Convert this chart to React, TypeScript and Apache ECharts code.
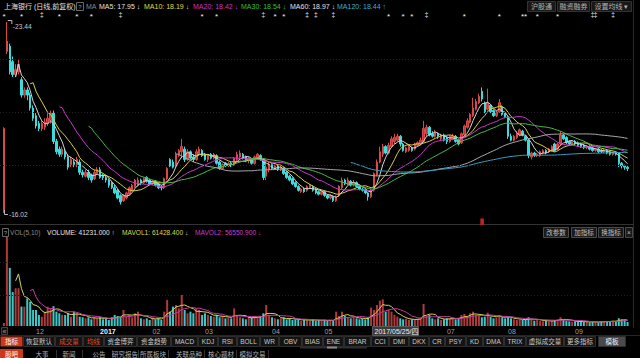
import React, { useEffect, useRef } from "react";
import * as echarts from "echarts";

const FONT = "'Liberation Sans', 'Noto Sans CJK SC', sans-serif";

// ---- calendar (SSE trading days) ----
const START_DATE = "2016-11-16";
const HOLIDAYS = [
  "2017-01-02", "2017-01-27", "2017-01-30", "2017-01-31", "2017-02-01", "2017-02-02",
  "2017-04-03", "2017-04-04", "2017-05-01", "2017-05-29", "2017-05-30",
];
const HIDDEN_MONTHS = ["2016-11", "2017-06"];
const CROSSHAIR_DATE = "2017-05-25";
const EX_RIGHTS_DATE = "2017-07-19";
const WEEKDAYS = ["日", "一", "二", "三", "四", "五", "六"];

// ---- candles: [open, close, low, high] ----
const candles: number[][] = [
  [16.05, 19.3, 16.02, 19.35], [22.3, 22.7, 22.2, 23.44], [22.5, 21.5, 21.4, 22.6], [21.9, 21.4, 21.3, 22.1],
  [21.4, 21.6, 21.3, 21.8], [21.5, 21.8, 21.4, 22.0], [21.2, 20.6, 20.5, 21.3], [20.6, 20.8, 20.5, 20.9],
  [20.8, 20.6, 20.4, 20.9], [20.6, 20.1, 20.0, 20.7], [20.1, 19.7, 19.6, 20.2], [19.8, 19.4, 19.3, 19.9],
  [19.5, 19.3, 19.2, 19.6], [19.3, 19.5, 19.2, 19.6], [19.35, 19.55, 19.25, 19.7], [19.5, 19.7, 19.4, 19.9],
  [19.6, 19.9, 19.5, 20.0], [19.9, 18.8, 18.7, 20.0], [18.8, 18.4, 18.3, 18.9], [18.5, 18.3, 18.2, 18.6],
  [18.3, 18.5, 18.2, 18.6], [18.4, 18.2, 18.1, 18.5], [18.2, 17.8, 17.7, 18.3], [17.9, 18.1, 17.8, 18.2],
  [18.0, 17.9, 17.8, 18.1], [17.9, 18.1, 17.8, 18.2], [18.0, 17.6, 17.5, 18.1], [17.6, 17.5, 17.4, 17.7],
  [17.45, 17.6, 17.4, 17.7], [17.6, 17.4, 17.3, 17.7], [17.5, 17.3, 17.2, 17.55], [17.35, 17.6, 17.3, 17.7],
  [17.55, 17.7, 17.5, 17.8], [17.7, 17.4, 17.35, 17.8], [17.5, 17.4, 17.3, 17.55], [17.4, 17.3, 17.2, 17.5],
  [17.3, 17.1, 17.0, 17.35], [17.2, 17.0, 16.95, 17.25], [17.0, 16.8, 16.75, 17.1], [16.9, 16.6, 16.55, 16.95],
  [16.7, 16.45, 16.35, 16.75], [16.5, 16.7, 16.45, 16.75], [16.6, 16.8, 16.55, 16.85], [16.75, 17.0, 16.7, 17.05],
  [16.9, 17.1, 16.85, 17.15], [17.05, 17.3, 17.0, 17.35], [17.1, 17.3, 17.05, 17.4], [17.3, 17.2, 17.1, 17.35],
  [17.2, 17.35, 17.15, 17.4], [17.4, 17.25, 17.2, 17.45], [17.3, 17.15, 17.1, 17.35], [17.15, 17.25, 17.1, 17.3],
  [17.25, 17.1, 17.05, 17.3], [17.15, 17.0, 16.95, 17.2], [17.05, 17.0, 16.9, 17.1], [17.0, 17.35, 16.95, 17.4],
  [17.35, 17.75, 17.3, 17.8], [18.1, 17.85, 17.8, 18.15], [18.0, 17.8, 17.75, 18.1], [17.85, 18.3, 17.8, 18.4],
  [18.25, 18.45, 18.2, 18.5], [18.4, 18.6, 18.15, 18.9], [18.5, 18.1, 18.0, 18.6], [18.1, 18.4, 18.05, 18.5],
  [18.4, 18.15, 18.1, 18.45], [18.2, 18.1, 18.0, 18.3], [18.1, 18.4, 18.05, 18.5], [18.35, 18.5, 18.3, 18.6],
  [18.45, 18.25, 18.2, 18.5], [18.3, 18.1, 18.05, 18.35], [18.1, 18.25, 18.0, 18.3], [18.3, 18.15, 18.1, 18.35],
  [18.15, 18.3, 18.1, 18.35], [18.25, 17.95, 17.9, 18.3], [18.0, 17.75, 17.7, 18.05], [17.75, 17.9, 17.7, 17.95],
  [17.95, 17.85, 17.8, 18.0], [17.85, 17.95, 17.8, 18.0], [17.95, 17.85, 17.8, 18.0], [17.9, 18.15, 17.85, 18.2],
  [18.1, 18.3, 18.05, 18.4], [18.2, 18.35, 18.15, 18.45], [18.3, 18.2, 18.1, 18.35], [18.2, 18.05, 18.0, 18.25],
  [18.05, 18.15, 17.95, 18.2], [18.1, 17.95, 17.9, 18.15], [17.95, 18.2, 17.9, 18.25], [18.15, 18.3, 18.1, 18.35],
  [18.25, 18.1, 18.05, 18.3], [18.1, 17.4, 17.3, 18.15], [17.45, 17.8, 17.3, 18.1], [17.7, 17.9, 17.6, 18.0],
  [17.9, 17.75, 17.7, 17.95], [17.75, 17.85, 17.7, 17.9], [17.85, 17.7, 17.65, 17.9], [17.7, 17.8, 17.65, 17.85],
  [17.75, 17.55, 17.5, 17.8], [17.6, 17.4, 17.35, 17.65], [17.45, 17.3, 17.25, 17.5], [17.35, 17.15, 17.1, 17.4],
  [17.2, 17.05, 17.0, 17.25], [17.05, 16.9, 16.85, 17.1], [16.85, 16.95, 16.8, 17.0], [16.95, 16.85, 16.8, 17.0],
  [16.9, 17.05, 16.85, 17.1], [17.0, 17.1, 16.95, 17.15], [17.05, 16.9, 16.85, 17.1], [16.95, 16.8, 16.75, 17.0],
  [16.85, 16.75, 16.7, 16.9], [16.75, 16.85, 16.7, 16.9], [16.85, 16.7, 16.65, 16.9], [16.7, 16.6, 16.55, 16.75],
  [16.6, 16.7, 16.55, 16.75], [16.65, 16.5, 16.45, 16.7], [16.5, 16.65, 16.45, 16.7], [16.7, 17.05, 16.65, 17.1],
  [17.0, 17.3, 16.95, 17.4], [17.3, 17.15, 17.1, 17.35], [17.15, 17.3, 17.1, 17.4], [17.25, 17.1, 17.05, 17.3],
  [17.1, 17.2, 17.05, 17.3], [17.2, 17.05, 17.0, 17.25], [17.05, 16.95, 16.9, 17.1], [16.95, 16.9, 16.85, 17.0],
  [16.9, 16.8, 16.75, 16.95], [16.8, 16.65, 16.5, 16.85], [16.65, 16.9, 16.6, 16.95], [16.9, 17.55, 16.85, 17.6],
  [17.5, 18.0, 17.45, 18.1], [18.0, 18.4, 17.95, 18.6], [18.3, 18.6, 18.2, 18.7], [18.6, 18.35, 18.3, 18.65],
  [18.35, 18.65, 18.3, 18.75], [18.6, 18.9, 18.55, 19.0], [18.8, 18.95, 18.7, 19.1], [18.85, 19.0, 18.8, 19.1],
  [19.0, 18.7, 18.6, 19.05], [18.7, 18.45, 18.4, 18.75], [18.4, 18.55, 18.35, 18.6], [18.45, 18.6, 18.4, 18.65],
  [18.55, 18.45, 18.4, 18.6], [18.5, 18.7, 18.45, 18.75], [18.65, 18.75, 18.6, 18.8], [18.7, 18.85, 18.65, 18.95],
  [18.8, 19.3, 18.75, 19.6], [19.1, 19.35, 19.0, 19.45], [19.35, 19.05, 19.0, 19.4], [19.1, 19.0, 18.95, 19.2],
  [19.0, 19.15, 18.95, 19.25], [19.1, 19.0, 18.9, 19.15], [18.9, 19.05, 18.85, 19.1], [19.05, 18.85, 18.8, 19.1],
  [18.95, 18.8, 18.7, 19.0], [18.8, 19.0, 18.75, 19.05], [18.9, 19.0, 18.85, 19.1], [19.0, 18.8, 18.75, 19.05],
  [18.85, 18.7, 18.65, 18.9], [18.75, 19.1, 18.7, 19.15], [19.05, 19.4, 19.0, 19.45], [19.35, 19.6, 19.3, 19.7],
  [19.55, 19.85, 19.5, 19.9], [19.8, 20.1, 19.75, 20.5], [20.05, 20.35, 20.0, 20.45], [20.3, 20.55, 20.25, 20.65],
  [20.75, 20.45, 20.35, 20.9], [20.3, 19.95, 19.9, 20.35], [20.05, 20.3, 20.0, 20.85], [20.2, 19.95, 19.9, 20.25],
  [20.0, 19.8, 19.75, 20.05], [19.8, 19.95, 19.75, 20.0], [19.95, 20.3, 19.9, 20.45], [20.15, 19.85, 19.8, 20.2],
  [19.9, 19.75, 19.7, 19.95], [19.75, 19.0, 18.9, 19.8], [19.0, 18.85, 18.8, 19.1], [18.85, 19.0, 18.8, 19.05],
  [18.95, 19.1, 18.9, 19.2], [19.05, 19.25, 19.0, 19.3], [19.2, 19.05, 19.0, 19.25], [19.0, 18.85, 18.8, 19.05],
  [18.85, 18.25, 18.15, 18.9], [18.2, 18.35, 18.1, 18.4], [18.35, 18.25, 18.2, 18.4], [18.25, 18.3, 18.2, 18.35],
  [18.25, 18.4, 18.2, 18.45], [18.35, 18.45, 18.3, 18.5], [18.45, 18.35, 18.3, 18.5], [18.4, 18.5, 18.35, 18.55],
  [18.45, 18.6, 18.4, 18.65], [18.7, 18.45, 18.4, 18.75], [18.5, 18.7, 18.45, 18.75], [18.7, 19.05, 18.65, 19.2],
  [19.05, 18.9, 18.85, 19.1], [18.95, 18.75, 18.7, 19.0], [18.8, 18.7, 18.65, 18.85], [18.7, 18.8, 18.65, 18.85],
  [18.8, 18.7, 18.65, 18.85], [18.75, 18.65, 18.6, 18.8], [18.7, 18.6, 18.55, 18.75], [18.65, 18.55, 18.5, 18.7],
  [18.55, 18.6, 18.5, 18.65], [18.6, 18.5, 18.45, 18.65], [18.55, 18.45, 18.4, 18.6], [18.45, 18.5, 18.4, 18.55],
  [18.5, 18.4, 18.35, 18.55], [18.45, 18.4, 18.35, 18.5], [18.4, 18.45, 18.35, 18.5], [18.45, 18.35, 18.3, 18.5],
  [18.4, 18.3, 18.25, 18.45], [18.3, 18.35, 18.25, 18.4], [18.35, 18.3, 18.25, 18.4], [18.3, 17.95, 17.8, 18.35],
  [17.95, 17.85, 17.75, 18.0], [17.85, 17.8, 17.7, 17.9], [17.8, 17.75, 17.65, 17.85],
];

// ---- volume (手) ----
const volumes: number[] = [
  30000, 960000, 600000, 350000, 390000, 390000, 200000, 200000, 286000, 250000,
  165000, 165000, 114000, 96000, 148000, 200000, 182000, 205000, 148000, 131000,
  114000, 114000, 131000, 96000, 148000, 131000, 96000, 90000, 79000, 90000,
  69000, 90000, 79000, 90000, 69000, 79000, 62000, 90000, 114000, 103000,
  96000, 165000, 96000, 114000, 90000, 131000, 148000, 79000, 69000, 79000,
  62000, 90000, 69000, 79000, 62000, 148000, 270000, 148000, 200000, 217000,
  182000, 320000, 165000, 131000, 148000, 131000, 182000, 165000, 114000, 131000,
  114000, 103000, 96000, 114000, 90000, 103000, 79000, 90000, 79000, 182000,
  114000, 90000, 79000, 69000, 96000, 90000, 103000, 90000, 96000, 131000,
  217000, 114000, 90000, 79000, 69000, 79000, 90000, 69000, 79000, 62000,
  69000, 62000, 55000, 69000, 62000, 55000, 69000, 55000, 62000, 55000,
  62000, 52000, 62000, 55000, 148000, 103000, 148000, 103000, 90000, 79000,
  96000, 79000, 69000, 79000, 69000, 90000, 190000, 165000, 217000, 262000,
  275000, 148000, 165000, 148000, 114000, 96000, 79000, 69000, 75000, 62000,
  69000, 62000, 75000, 90000, 227000, 103000, 114000, 79000, 69000, 79000,
  62000, 69000, 79000, 79000, 90000, 69000, 79000, 114000, 124000, 103000,
  131000, 148000, 114000, 103000, 90000, 96000, 138000, 96000, 79000, 90000,
  114000, 90000, 79000, 90000, 79000, 69000, 62000, 69000, 62000, 69000,
  90000, 69000, 55000, 62000, 55000, 48000, 55000, 48000, 55000, 62000,
  69000, 90000, 62000, 55000, 48000, 45000, 48000, 41000, 48000, 41000,
  45000, 38000, 45000, 41000, 38000, 50000, 48000, 52000, 46000, 52000,
  51000, 80000, 70000, 65000, 41231,
];

const MA_PERIODS = [5, 10, 20, 30, 60, 120];
const MA_COLORS = ["#d4d4d4", "#d8d040", "#c838c8", "#48b848", "#a8a8a8", "#3a9cc0"];
const MA_HEADER = [
  { text: "MA5: 17.95 ↓", color: "#e0e0e0" },
  { text: "MA10: 18.19 ↓", color: "#e0dc40" },
  { text: "MA20: 18.42 ↓", color: "#d030d0" },
  { text: "MA30: 18.54 ↓", color: "#30c030" },
  { text: "MA60: 18.97 ↓", color: "#e0e0e0" },
  { text: "MA120: 18.44 ↑", color: "#30b0d8" },
];
const MA_HEADER_X = [99, 144, 193, 241, 290, 337];
const VOL_MA_PERIODS = [5, 10];
const VOL_MA_COLORS = ["#d8d060", "#c0409a"];
const VOL_HEADER = [
  { text: "VOL(5,10)", color: "#8a8a8a", x: 10 },
  { text: "VOLUME: 41231.000 ↑", color: "#e8e8e8", x: 47 },
  { text: "MAVOL1: 61428.400 ↓", color: "#d8d84a", x: 122 },
  { text: "MAVOL2: 56550.900 ↓", color: "#c83cc8", x: 195 },
];

// event markers above the price panel: [candle index, glyph]
const EVENT_MARKERS: [number, string][] = [
  [0, "*"], [6, "*"], [13, "‡"], [19, "*"], [25, "*"], [30, "*"], [40, "‡"], [68, "*"], [73, "*"],
  [89, "‡"], [93, "*"], [96, "*"], [104, "‡"], [107, "‡"], [113, "‡"], [132, "*"], [137, "*"],
  [140, "*"], [145, "‡"], [158, "*"], [170, "*"], [178, "*"], [179, "*"], [183, "*"], [190, "*"],
  [202, "‡"], [203, "‡"], [209, "‡"],
];

const TAB_ROW1: [string, number, number, string?][] = [
  ["指标", 0, 23, "active"], ["恢复默认", 23, 55], ["成交量", 55, 83, "red"], ["均线", 83, 104, "red"],
  ["资金博弈", 104, 137], ["资金趋势", 137, 171], ["MACD", 171, 198], ["KDJ", 198, 218], ["RSI", 218, 237],
  ["BOLL", 237, 260], ["WR", 260, 279], ["OBV", 279, 302], ["BIAS", 302, 323], ["ENE", 323, 344],
  ["BRAR", 344, 371], ["CCI", 371, 389], ["DMI", 389, 409], ["DKX", 409, 429], ["CR", 429, 445],
  ["PSY", 445, 466], ["KD", 466, 483], ["DMA", 483, 504], ["TRIX", 504, 526], ["虚拟成交量", 526, 564],
  ["更多指标", 564, 596], ["模板", 598, 626, "gray"],
];
const TAB_ROW2: [string, number, number, string?][] = [
  ["股吧", 0, 23, "active"], ["大事", 28, 56], ["新闻", 56, 82], ["公告", 86, 112], ["研究报告", 112, 138],
  ["所属板块", 138, 168], ["关联品种", 174, 204], ["核心题材", 206, 236], ["模拟交易", 237, 268],
];

function buildTradingDays(start: string, count: number): string[] {
  const out: string[] = [];
  const d = new Date(start + "T00:00:00Z");
  while (out.length < count) {
    const dow = d.getUTCDay();
    const s = d.toISOString().slice(0, 10);
    if (dow !== 0 && dow !== 6 && !HOLIDAYS.includes(s)) out.push(s);
    d.setUTCDate(d.getUTCDate() + 1);
  }
  return out;
}

function movingAverage(values: number[], n: number): (number | string)[] {
  return values.map((_, i) => {
    if (i < n - 1) return "-";
    let s = 0;
    for (let k = i - n + 1; k <= i; k++) s += values[k];
    return +(s / n).toFixed(3);
  });
}

const UP = "#d84a4a";
const UP_FILL = "#b8363a";
const DOWN = "#3cdcdc";

function txt(x: number, y: number, text: string, color: string, size = 7, align = "left", extra: any = {}) {
  return {
    type: "text",
    x,
    y,
    silent: true,
    z: 20,
    style: {
      text,
      fill: color,
      fontSize: size,
      fontFamily: FONT,
      fontWeight: extra.bold ? "bold" : "normal",
      align,
      textAlign: align,
      verticalAlign: "middle",
      textVerticalAlign: "middle",
    },
  };
}
function rect(x: number, y: number, w: number, h: number, fill: string, stroke?: string) {
  return {
    type: "rect",
    silent: true,
    z: 15,
    shape: { x, y, width: w, height: h },
    style: { fill, stroke: stroke || null, lineWidth: 1 },
  };
}
function line(x1: number, y1: number, x2: number, y2: number, stroke: string, dash?: number[]) {
  return {
    type: "line",
    silent: true,
    z: 5,
    shape: { x1, y1, x2, y2 },
    style: { stroke, lineWidth: 1, lineDash: dash || null },
  };
}

export default function App() {
  const ref = useRef<HTMLDivElement>(null);

  useEffect(() => {
    const el = ref.current!;
    const chart = echarts.init(el, null, { renderer: "svg" });

    const categories = buildTradingDays(START_DATE, candles.length);
    const closes = candles.map((c) => c[1]);
    const lows = candles.map((c) => c[2]);
    const highs = candles.map((c) => c[3]);
    const priceMin = Math.min(...lows);
    const priceMax = Math.max(...highs);
    const loIdx = lows.indexOf(priceMin);
    const hiIdx = highs.indexOf(priceMax);
    const volMax = Math.max(...volumes);

    const monthLabel = new Map<string, string>();
    categories.forEach((d, i) => {
      const ym = d.slice(0, 7);
      if (i > 0 && categories[i - 1].slice(0, 7) === ym) return;
      if (HIDDEN_MONTHS.includes(ym)) return;
      const m = d.slice(5, 7);
      monthLabel.set(d, m === "01" ? d.slice(0, 4) : m);
    });

    const gridLeft = 2.5;
    const gridWidth = 626.5;

    const option: any = {
      backgroundColor: "#000",
      animation: false,
      textStyle: { fontFamily: FONT },
      grid: [
        { left: gridLeft, width: gridWidth, top: 22, height: 191 },
        { left: gridLeft, width: gridWidth, top: 233, height: 93 },
      ],
      xAxis: [
        {
          type: "category", gridIndex: 0, data: categories, boundaryGap: true,
          axisLine: { show: false }, axisTick: { show: false }, axisLabel: { show: false }, splitLine: { show: false },
        },
        {
          type: "category", gridIndex: 1, data: categories, boundaryGap: true,
          axisLine: { show: false }, axisTick: { show: false }, splitLine: { show: false },
          axisLabel: {
            show: true,
            interval: (_i: number, v: string) => monthLabel.has(v),
            formatter: (v: string) => {
              const l = monthLabel.get(v) || "";
              return l.length === 4 ? `{y|${l}}` : l;
            },
            color: "#a0a0a0",
            fontSize: 7,
            fontFamily: FONT,
            align: "left",
            margin: 1.5,
            rich: { y: { color: "#f2f2f2", fontWeight: "bold", fontSize: 7, fontFamily: FONT } },
          },
        },
      ],
      yAxis: [
        { gridIndex: 0, min: priceMin, max: priceMax, show: false, splitLine: { show: false } },
        { gridIndex: 1, min: 0, max: volMax, show: false, splitLine: { show: false } },
      ],
      series: [
        {
          type: "candlestick",
          xAxisIndex: 0, yAxisIndex: 0,
          data: candles,
          barWidth: 2,
          itemStyle: { color: UP_FILL, color0: DOWN, borderColor: UP, borderColor0: DOWN, borderWidth: 1 },
          z: 3,
        },
        ...MA_PERIODS.map((n, k) => ({
          type: "line",
          xAxisIndex: 0, yAxisIndex: 0,
          data: movingAverage(closes, n),
          showSymbol: false,
          symbol: "none",
          lineStyle: { color: MA_COLORS[k], width: 1 },
          z: 4,
        })),
        {
          type: "bar",
          xAxisIndex: 1, yAxisIndex: 1,
          barWidth: 2,
          data: volumes.map((v, i) => ({
            value: v,
            itemStyle: { color: candles[i][1] >= candles[i][0] ? "#b03a3a" : "#3cc8c8" },
          })),
          z: 3,
        },
        ...VOL_MA_PERIODS.map((n, k) => ({
          type: "line",
          xAxisIndex: 1, yAxisIndex: 1,
          data: movingAverage(volumes, n),
          showSymbol: false,
          symbol: "none",
          lineStyle: { color: VOL_MA_COLORS[k], width: 1 },
          z: 4,
        })),
      ],
    };
    chart.setOption(option);

    const px = (i: number, p: number) => chart.convertToPixel({ gridIndex: 0 }, [i, p]) as number[];

    const g: any[] = [];
    // panel lines
    [59.5, 112.5, 165.5].forEach((y) => g.push(line(0, y, 633, y, "#242424", [1, 2])));
    [262.5, 295.5].forEach((y) => g.push(line(0, y, 633, y, "#1e1e1e", [1, 2])));
    g.push(line(0, 224.5, 633, 224.5, "#333333"));
    g.push(line(633.5, 0, 633.5, 328, "#2a2a2a"));
    g.push(line(0, 335.5, 640, 335.5, "#262626"));

    // top header
    g.push(txt(4, 6.5, "上海银行 (日线,前复权)", "#e0e0e0", 7));
    g.push(rect(76.5, 2.5, 7, 8, "#000", "#666"));
    g.push(txt(80, 6.5, "?", "#9a9a9a", 6, "center"));
    g.push(txt(86, 6.5, "MA", "#8a8a8a", 7));
    MA_HEADER.forEach((h, k) => g.push(txt(MA_HEADER_X[k], 6.5, h.text, h.color, 7)));
    [["沪股通", 527, 29], ["融资融券", 557, 33], ["设置均线 ▾", 591, 41]].forEach(([t, x, w]: any) => {
      g.push(rect(x + 0.5, 1.5, w - 1, 10, "#181818", "#333"));
      g.push(txt(x + w / 2, 6.5, t, "#b4b4b4", 7, "center"));
    });

    // event markers
    EVENT_MARKERS.forEach(([i, s]) => {
      const x = px(i, priceMax)[0];
      g.push(txt(x, s === "*" ? 16 : 14, s, "#f0f0f0", s === "*" ? 8 : 6.5, "center"));
    });

    // max / min labels
    const ph = px(hiIdx, priceMax);
    g.push({ type: "polyline", silent: true, z: 15, shape: { points: [[ph[0] + 1, ph[1] - 1.5], [ph[0] + 5, ph[1] - 1.5], [ph[0] + 5, ph[1] + 2]] }, style: { stroke: "#bbbbbb", fill: null, lineWidth: 1 } });
    g.push(txt(ph[0] + 6, ph[1] + 4, "-" + priceMax.toFixed(2), "#c8c8c8", 6.6));
    const pl = px(loIdx, priceMin);
    g.push({ type: "polyline", silent: true, z: 15, shape: { points: [[pl[0] + 0.5, pl[1] - 3], [pl[0] + 0.5, pl[1] + 1.5], [pl[0] + 4, pl[1] + 1.5]] }, style: { stroke: "#bbbbbb", fill: null, lineWidth: 1 } });
    g.push(txt(pl[0] + 5, pl[1] + 1, "-" + priceMin.toFixed(2), "#c8c8c8", 6.6));

    // ex-rights marker
    const exIdx = categories.indexOf(EX_RIGHTS_DATE);
    if (exIdx >= 0) {
      const ex = px(exIdx, priceMin)[0];
      g.push(rect(ex - 1.5, 218.5, 3.5, 6.5, "#c8201c"));
    }

    // volume header
    g.push(rect(2.5, 228.5, 6, 8, "#000", "#666"));
    g.push(txt(5.5, 232.5, "?", "#9a9a9a", 6, "center"));
    VOL_HEADER.forEach((h) => g.push(txt(h.x, 232.5, h.text, h.color, 6.6)));
    [["改参数", 543, 26], ["加指标", 571, 26], ["换指标", 598, 26], ["×", 625, 8]].forEach(([t, x, w]: any) => {
      g.push(rect(x + 0.5, 227.5, w - 1, 10, "#1a1a1a", "#4a4a4a"));
      g.push(txt(x + w / 2, 232.5, t, "#c0c0c0", 6.5, "center"));
    });

    // crosshair date box on the time axis
    const chIdx = categories.indexOf(CROSSHAIR_DATE);
    if (chIdx >= 0) {
      const cx = px(chIdx, priceMin)[0];
      const d = new Date(CROSSHAIR_DATE + "T00:00:00Z");
      const label = CROSSHAIR_DATE.replace(/-/g, "/") + "/" + WEEKDAYS[d.getUTCDay()];
      g.push(rect(cx - 1.5, 326.5, 46, 9, "#3c3c3c", "#5a5a5a"));
      g.push(txt(cx + 0.5, 331.2, label, "#f0f0f0", 7));
    }
    g.push(rect(1.5, 327.5, 6, 7, "#111", "#444"));
    g.push(txt(4.5, 331, "«", "#aaaaaa", 7, "center"));

    // bottom tab rows
    TAB_ROW1.forEach(([t, x0, x1, kind]) => {
      const fill = kind === "active" ? "#c8391f" : kind === "gray" ? "#4a4a4a" : "#141414";
      g.push(rect(x0 + 0.5, 336.5, x1 - x0 - 1, 10, fill, kind === "active" ? null : "#2e2e2e"));
      const color = kind === "active" ? "#ffffff" : kind === "red" ? "#e04a2a" : kind === "gray" ? "#f0f0f0" : "#c8c8c8";
      g.push(txt((x0 + x1) / 2, 341.5, t, color, 6.5, "center"));
    });
    g.push(rect(300, 346.5, 67, 2, "#2e2e2e"));
    g.push(rect(327, 346.5, 10, 2, "#8a8a8a"));
    TAB_ROW2.forEach(([t, x0, x1, kind]) => {
      if (kind === "active") {
        g.push(rect(x0, 349, x1 - x0, 9, "#c8391f"));
        g.push(txt((x0 + x1) / 2, 354, t, "#ffffff", 6.5, "center"));
      } else {
        g.push(line(x1 + 0.5, 350, x1 + 0.5, 358, "#333"));
        g.push(txt((x0 + x1) / 2, 354, t, "#b0b0b0", 6.5, "center"));
      }
    });

    chart.setOption({ graphic: { elements: g } });

    return () => chart.dispose();
  }, []);

  return (
    <div
      ref={ref}
      style={{ position: "fixed", left: 0, top: 0, width: 640, height: 358, background: "#000" }}
    />
  );
}
